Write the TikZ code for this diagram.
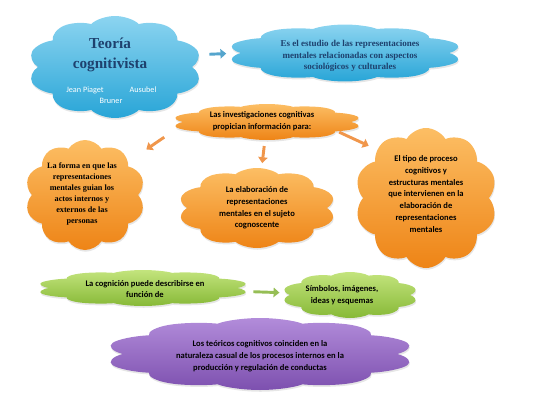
\documentclass[tikz,border=0pt]{standalone}
\usepackage{fontspec}
\usepackage{tikz}
\usetikzlibrary{shapes.symbols,shadows,arrows.meta}
\newfontfamily\calibri{Carlito}
\newfontfamily\cambria{Liberation Serif}

\definecolor{cloudblue}{RGB}{40,165,215}
\definecolor{cloudbluelight}{RGB}{140,212,240}
\definecolor{cloudorange}{RGB}{238,132,22}
\definecolor{cloudorangelight}{RGB}{252,190,100}
\definecolor{cloudgreen}{RGB}{135,185,55}
\definecolor{cloudgreenlight}{RGB}{195,228,125}
\definecolor{cloudpurple}{RGB}{125,80,175}
\definecolor{cloudpurplelight}{RGB}{178,140,218}
\definecolor{titleblue}{RGB}{30,65,110}
\definecolor{arrowblue}{RGB}{85,165,205}
\definecolor{arroworange}{RGB}{240,150,75}
\definecolor{arrowgreen}{RGB}{150,190,85}

\newlength\px
\setlength\px{0.03cm}

\begin{document}
\begin{tikzpicture}[x=0.03cm, y=-0.03cm,
  bubble/.style={cloud, cloud ignores aspect, cloud puffs=10, cloud puff arc=120,
    inner sep=0pt, minimum size=100\px, transform shape,
    drop shadow={opacity=0.2, shadow xshift=0.5pt, shadow yshift=-1.5pt}},
  blue bubble/.style={bubble, top color=cloudbluelight, bottom color=cloudblue},
  orange bubble/.style={bubble, top color=cloudorangelight, bottom color=cloudorange},
  green bubble/.style={bubble, top color=cloudgreenlight, bottom color=cloudgreen},
  purple bubble/.style={bubble, top color=cloudpurplelight, bottom color=cloudpurple},
  sanstext/.style={align=center, font=\calibri\bfseries\fontsize{7.3}{10}\selectfont},
  seriftext/.style={align=center, font=\cambria\bfseries\fontsize{7}{9.4}\selectfont},
  nametext/.style={white, font=\calibri\fontsize{7}{8}\selectfont},
  arrow/.style={line width=2.5pt, -{Triangle[length=5pt,width=8pt]}}]
  \useasboundingbox (0,0) rectangle (560,420);

  % clouds: name/colour/centre/size
  \foreach \name/\kind/\cx/\cy/\w/\h in {
      teoria/blue/115/67/174/102, estudio/blue/345/53/235/57,
      invest/orange/267/122/190/36, forma/orange/85/195/120/110,
      elab/orange/257/208/158/80, tipo/orange/426/198/142/140,
      cognicion/green/143/288/213/36, simbolos/green/350/295/136/46,
      teoricos/purple/260/354/310/72} {
    \begin{scope}[shift={(\cx,\cy)}, xscale=\w/100, yscale=\h/100]
      \node[\kind\space bubble] (\name) {};
    \end{scope}
  }

  % texts
  \node[titleblue, align=center, font=\cambria\bfseries\fontsize{13}{17}\selectfont] (titulo) at (110,55) {Teoría\\cognitivista};
  \node[nametext] (piaget) at (85,90) {Jean Piaget};
  \node[nametext] (ausubel) at (143,90) {Ausubel};
  \node[nametext] (bruner) at (111,101) {Bruner};

  \node[titleblue, align=center, font=\cambria\bfseries\fontsize{7.7}{9.6}\selectfont] (estudio text) at (350,56)
    {Es el estudio de las representaciones\\mentales relacionadas con aspectos\\sociológicos y culturales};
  \node[sanstext] (invest text) at (262,121) {Las investigaciones cognitivas\\propician información para:};
  \node[seriftext] (forma text) at (82,194)
    {La forma en que las\\representaciones\\mentales guian los\\actos internos y\\externos de las\\personas};
  \node[sanstext] (elab text) at (257,208)
    {La elaboración de\\representaciones\\mentales en el sujeto\\cognoscente};
  \node[sanstext] (tipo text) at (426,194)
    {El tipo de proceso\\cognitivos y\\estructuras mentales\\que intervienen en la\\elaboración de\\representaciones\\mentales};
  \node[sanstext] (cognicion text) at (145,289) {La cognición puede describirse en\\función de};
  \node[sanstext] (simbolos text) at (342,295) {Símbolos, imágenes,\\ideas y esquemas};
  \node[sanstext] (teoricos text) at (260,356)
    {Los teóricos cognitivos coinciden en la\\naturaleza casual de los procesos internos en la\\producción y regulación de conductas};

  % arrows
  \draw[arrow, arrowblue, shorten <=10\px, shorten >=14\px] (teoria.14) -- (estudio.180);
  \draw[arrow, arroworange, shorten <=16\px, shorten >=22\px] (invest.200) -- (forma.40);
  \draw[arrow, arroworange, shorten <=6\px, shorten >=5\px] (invest) -- (elab);
  \draw[arrow, arroworange, shorten <=2\px, shorten >=9\px] (invest.-35) -- (tipo.135);
  \draw[arrow, arrowgreen, shorten <=7\px, shorten >=6\px] (cognicion) -- (simbolos);
\end{tikzpicture}
\end{document}
